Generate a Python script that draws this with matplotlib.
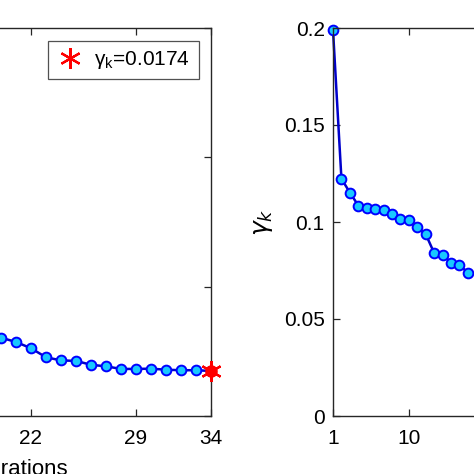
import matplotlib
matplotlib.use("Agg")
import matplotlib.pyplot as plt

plt.rcParams['font.family'] = ['Liberation Sans', 'DejaVu Sans']

# left panel: gamma_k vs iterations (only the visible tail)
iters_left = [20, 21, 22, 23, 24, 25, 26, 27, 28, 29, 30, 31, 32, 33, 34]
gamma_left = [0.0303, 0.0286, 0.0262, 0.0227, 0.0215, 0.0213, 0.0198, 0.0192,
              0.0182, 0.0182, 0.0183, 0.0179, 0.0177, 0.0177, 0.0174]
best_iter = 34
best_gamma = 0.0174
left_xticks = [8, 15, 22, 29, 34]
left_yticks = [0, 0.05, 0.1, 0.15]

# right panel: gamma_k (visible head)
iters_right = list(range(1, 18))
gamma_right = [0.1990, 0.1223, 0.1152, 0.1085, 0.1074, 0.1067, 0.1062, 0.1043,
               0.1014, 0.1009, 0.0972, 0.0938, 0.0841, 0.0832, 0.0791, 0.0779,
               0.0739]
right_xticks = [1, 10, 20, 30, 34]
right_yticks = [0, 0.05, 0.1, 0.15, 0.2]

line_col = '#0000CC'
face_col = '#18C8FF'
edge_col = '#0000FF'
axis_col = '#262626'

fig = plt.figure(figsize=(4.74, 4.74), dpi=100)
W = 474.0

def px_axes(x0, x1, ytop, ybot):
    return fig.add_axes([x0 / W, 1 - ybot / W, (x1 - x0) / W, (ybot - ytop) / W])

def style(ax):
    for s in ax.spines.values():
        s.set_color(axis_col)
        s.set_linewidth(1.0)
    ax.tick_params(direction='in', length=5, width=0.9, colors=axis_col,
                   labelcolor='black', labelsize=15, top=True, right=True)
    ax.tick_params(axis='x', pad=9)
    ax.tick_params(axis='y', pad=6)

ax1 = px_axes(-179, 211, 28, 416)
ax1.plot(iters_left, gamma_left, '-o', color=line_col, lw=1.8, ms=7,
         mfc=face_col, mec=edge_col, mew=1.4)
ax1.plot([best_iter], [best_gamma], 'o', color='red', ms=8, mec='red',
         zorder=5, clip_on=False)
ax1.plot([best_iter], [best_gamma], ls='none', marker=(6, 2, 0), color='red',
         ms=15, mew=1.6, zorder=6, clip_on=False,
         label=r'$\mathregular{\gamma_k}$=%.4f' % best_gamma)
ax1.set_xlim(8, 34)
ax1.set_ylim(0, 0.15)
ax1.set_xticks(left_xticks)
ax1.set_yticks(left_yticks)
ax1.set_yticklabels(['0', '0.05', '0.1', '0.15'])
ax1.set_xlabel('Iterations', fontsize=16)
ax1.xaxis.set_label_coords(0.515, -0.112)
style(ax1)
leg = ax1.legend(loc='upper right', fontsize=15, frameon=True, fancybox=False,
                 borderaxespad=0.6, handletextpad=0.5, borderpad=0.4,
                 handlelength=1.3)
leg.get_frame().set_edgecolor(axis_col)
leg.get_frame().set_linewidth(0.9)

ax2 = px_axes(333, 611, 28, 416)
ax2.plot(iters_right, gamma_right, '-o', color=line_col, lw=1.8, ms=7,
         mfc=face_col, mec=edge_col, mew=1.4, clip_on=False)
ax2.set_xlim(1, 34)
ax2.set_ylim(0, 0.2)
ax2.set_xticks(right_xticks)
ax2.set_yticks(right_yticks)
ax2.set_yticklabels(['0', '0.05', '0.1', '0.15', '0.2'])
ax2.set_ylabel(r'$\gamma_k$', fontsize=18, labelpad=6)
style(ax2)

fig.savefig('out.png', dpi=100)
